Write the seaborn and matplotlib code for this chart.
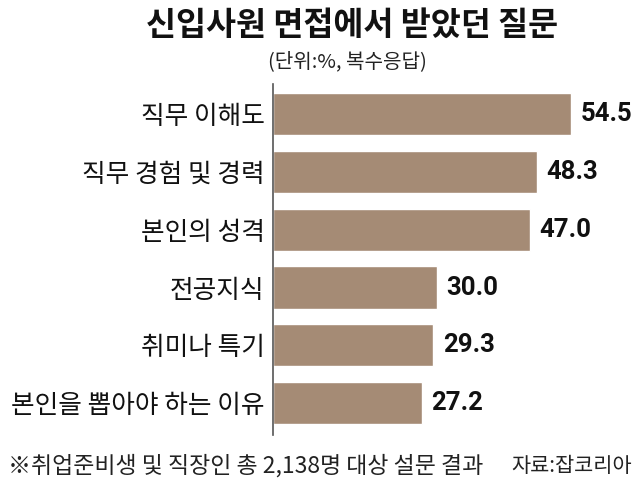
"""Bar chart: questions received in new-hire job interviews."""

import matplotlib

matplotlib.use("Agg")

import matplotlib.pyplot as plt
import pandas as pd
import seaborn as sns
from matplotlib import font_manager


QUESTIONS = [
    "직무 이해도",
    "직무 경험 및 경력",
    "본인의 성격",
    "전공지식",
    "취미나 특기",
    "본인을 뽑아야 하는 이유",
]
SHARES = [54.5, 48.3, 47.0, 30.0, 29.3, 27.2]
VALUE_LABELS = ["54.5", "48.3", "47.0", "30.0", "29.3", "27.2"]

TITLE = "신입사원 면접에서 받았던 질문"
UNIT_NOTE = "(단위:%, 복수응답)"
FOOTNOTE = "※취업준비생 및 직장인 총 2,138명 대상 설문 결과"
SOURCE = "자료:잡코리아"

BAR_COLOR = "#a58b75"
KO_FONT = ["Noto Sans CJK KR", "DejaVu Sans"]


def pick_number_font() -> str:
    """Use a narrow-ish sans for the numbers if one is installed."""
    for name in ["Roboto", "Liberation Sans", "DejaVu Sans"]:
        try:
            font_manager.findfont(
                font_manager.FontProperties(family=name, weight="bold"),
                fallback_to_default=False,
            )
            return name
        except ValueError:
            continue
    return "DejaVu Sans"


sns.set_style("white")
plt.rcParams["font.family"] = KO_FONT
num_font = pick_number_font()

df = pd.DataFrame({"question": QUESTIONS, "share": SHARES})

fig = plt.figure(figsize=(6.4, 4.79), dpi=100)
ax = fig.add_axes([273 / 640, 44 / 479, 367 / 640, 351 / 479])

sns.barplot(
    data=df, x="share", y="question", orient="h", color=BAR_COLOR,
    width=0.73, saturation=1, ax=ax,
)

ax.set_xlim(0, 67.2)
ax.set_ylim(5.55, -0.52)
ax.set_xlabel("")
ax.set_ylabel("")
ax.set_xticks([])

ax.tick_params(axis="y", length=0, pad=6, labelsize=18.5, labelcolor="#111111")

for side in ["top", "right", "bottom"]:
    ax.spines[side].set_visible(False)
ax.spines["left"].set_color("#555555")
ax.spines["left"].set_linewidth(1.2)

for i, (value, label) in enumerate(zip(SHARES, VALUE_LABELS)):
    ax.annotate(
        label, xy=(value, i), xytext=(7, 0), textcoords="offset points",
        ha="left", va="center", fontsize=18.5, fontweight="bold",
        family=num_font, color="#111111",
    )

fig.text(352 / 640, 1 - 25 / 479, TITLE, ha="center", va="center",
         fontsize=23.5, fontweight="bold", color="#111111")
fig.text(268 / 640, 1 - 62 / 479, UNIT_NOTE, ha="left", va="center",
         fontsize=14.5, color="#222222")
fig.text(8 / 640, 1 - 466 / 479, FOOTNOTE, ha="left", va="center",
         fontsize=16.5, color="#222222")
fig.text(632 / 640, 1 - 466 / 479, SOURCE, ha="right", va="center",
         fontsize=15, color="#222222")

fig.savefig("out.png", dpi=100)
plt.close(fig)
